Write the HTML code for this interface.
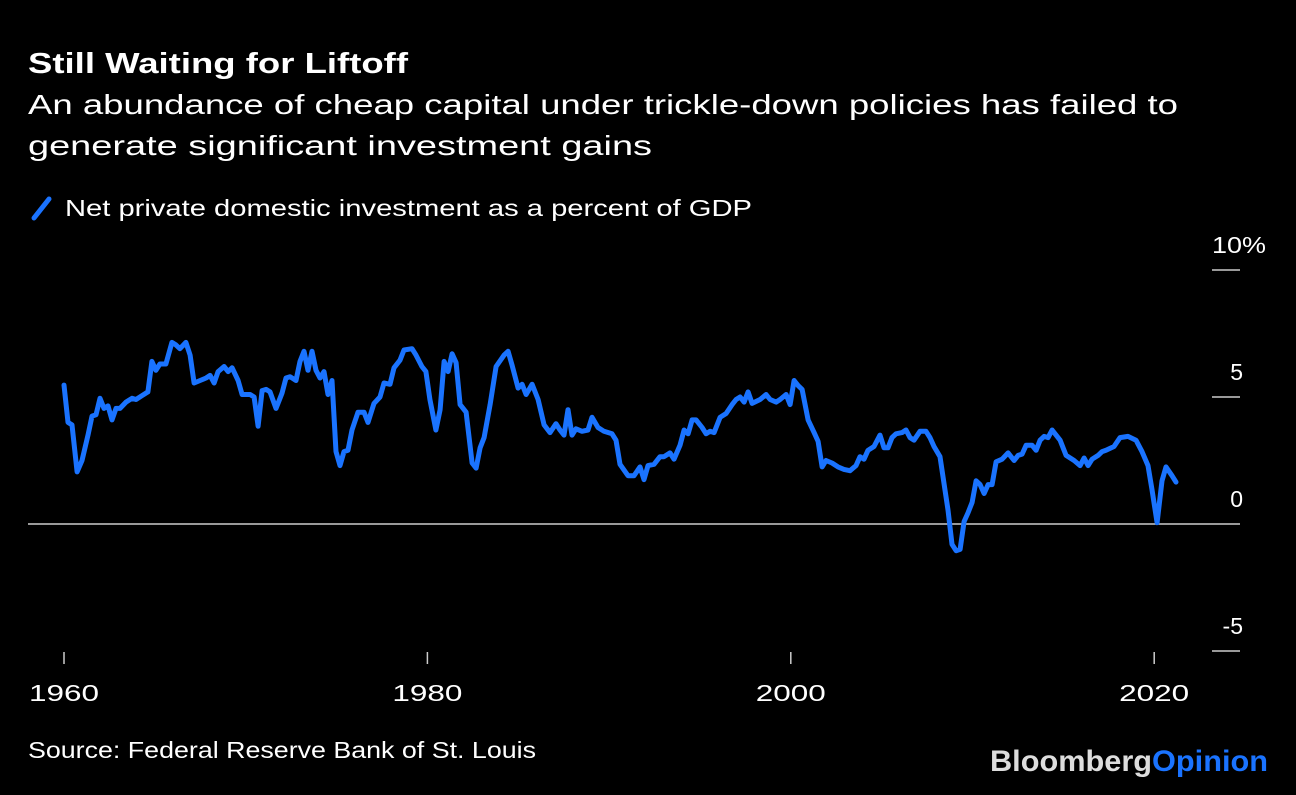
<!DOCTYPE html>
<html><head><meta charset="utf-8"><style>
body{margin:0;background:#000;width:1296px;height:790px;overflow:hidden;font-family:"Liberation Sans",Arial,sans-serif;color:#fff}
svg text{font-family:"Liberation Sans",Arial,sans-serif}
</style></head><body>
<svg id="chart" width="1296" height="790" xmlns="http://www.w3.org/2000/svg">
<text x="28" y="73" font-size="29" font-weight="bold" fill="#fff" textLength="380" lengthAdjust="spacingAndGlyphs">Still Waiting for Liftoff</text>
<text x="28" y="114" font-size="28" fill="#fff" textLength="1150" lengthAdjust="spacingAndGlyphs">An abundance of cheap capital under trickle-down policies has failed to</text>
<text x="28" y="155" font-size="28" fill="#fff" textLength="624" lengthAdjust="spacingAndGlyphs">generate significant investment gains</text>
<line x1="34" y1="218" x2="49" y2="199" stroke="#1a73ff" stroke-width="5" stroke-linecap="round"/>
<text x="65" y="216" font-size="23" fill="#fff" textLength="687" lengthAdjust="spacingAndGlyphs">Net private domestic investment as a percent of GDP</text>
<g id="axes"></g>
<path id="series" fill="none" stroke="#1a73ff" stroke-width="5" stroke-linejoin="round" stroke-linecap="round"/>
<text x="28" y="758" font-size="23" fill="#fff" textLength="508" lengthAdjust="spacingAndGlyphs">Source: Federal Reserve Bank of St. Louis</text>
<text x="990" y="771" font-size="30" font-weight="bold" textLength="278" lengthAdjust="spacingAndGlyphs"><tspan fill="#ddd">Bloomberg</tspan><tspan fill="#1a73ff">Opinion</tspan></text>
</svg>
<script>
const years=[1960.00,1960.22,1960.44,1960.72,1960.99,1961.32,1961.54,1961.76,1961.98,1962.20,1962.42,1962.64,1962.86,1963.08,1963.41,1963.74,1963.96,1964.29,1964.62,1964.84,1965.06,1965.28,1965.61,1965.94,1966.16,1966.38,1966.71,1966.94,1967.16,1967.49,1967.82,1968.04,1968.26,1968.48,1968.81,1969.03,1969.25,1969.58,1969.80,1970.24,1970.46,1970.68,1970.90,1971.12,1971.34,1971.67,1972.00,1972.22,1972.44,1972.77,1972.99,1973.21,1973.43,1973.65,1973.87,1974.09,1974.31,1974.53,1974.75,1974.97,1975.19,1975.41,1975.63,1975.85,1976.18,1976.51,1976.73,1977.06,1977.39,1977.61,1977.94,1978.16,1978.49,1978.71,1979.15,1979.37,1979.70,1979.92,1980.14,1980.47,1980.70,1980.92,1981.14,1981.36,1981.58,1981.80,1982.13,1982.46,1982.68,1982.90,1983.12,1983.45,1983.78,1984.22,1984.44,1984.66,1984.99,1985.21,1985.43,1985.76,1986.09,1986.42,1986.75,1987.08,1987.30,1987.52,1987.74,1987.96,1988.18,1988.51,1988.84,1989.06,1989.39,1989.72,1990.16,1990.38,1990.60,1991.04,1991.37,1991.70,1991.92,1992.14,1992.47,1992.80,1993.02,1993.35,1993.57,1993.90,1994.13,1994.35,1994.57,1994.79,1995.12,1995.34,1995.56,1995.78,1996.11,1996.44,1996.77,1996.99,1997.21,1997.43,1997.65,1997.87,1998.31,1998.64,1998.86,1999.19,1999.41,1999.74,1999.96,2000.18,2000.40,2000.62,2000.95,2001.28,2001.50,2001.72,2001.94,2002.27,2002.60,2002.93,2003.26,2003.59,2003.81,2004.03,2004.25,2004.58,2004.91,2005.13,2005.35,2005.57,2005.79,2006.12,2006.34,2006.56,2006.78,2007.11,2007.44,2007.66,2007.88,2008.21,2008.43,2008.65,2008.87,2009.10,2009.32,2009.54,2009.76,2009.98,2010.20,2010.42,2010.64,2010.86,2011.08,2011.30,2011.63,2011.96,2012.29,2012.51,2012.73,2012.95,2013.28,2013.50,2013.72,2013.94,2014.16,2014.38,2014.82,2015.15,2015.59,2015.92,2016.14,2016.36,2016.58,2016.91,2017.13,2017.35,2017.79,2018.12,2018.56,2019.00,2019.33,2019.66,2019.88,2020.16,2020.43,2020.65,2020.98,2021.20];
const values=[5.47,4.0,3.9,2.05,2.5,3.5,4.25,4.3,4.95,4.55,4.65,4.1,4.55,4.55,4.8,4.95,4.9,5.05,5.2,6.4,6.05,6.3,6.3,7.15,7.05,6.9,7.15,6.65,5.55,5.65,5.75,5.85,5.55,6.0,6.2,6.0,6.15,5.65,5.1,5.1,5.0,3.85,5.25,5.3,5.2,4.55,5.15,5.75,5.8,5.65,6.4,6.8,6.05,6.8,6.05,5.75,6.0,5.1,5.65,2.85,2.3,2.85,2.9,3.7,4.4,4.4,4.0,4.75,5.0,5.55,5.5,6.15,6.45,6.85,6.9,6.65,6.2,6.0,4.9,3.7,4.5,6.4,6.0,6.7,6.35,4.7,4.4,2.4,2.2,3.0,3.4,4.7,6.2,6.65,6.8,6.25,5.35,5.5,5.1,5.5,4.9,3.9,3.6,3.95,3.7,3.5,4.5,3.5,3.75,3.65,3.7,4.2,3.8,3.65,3.55,3.3,2.35,1.9,1.9,2.25,1.75,2.3,2.35,2.65,2.65,2.8,2.55,3.1,3.7,3.55,4.1,4.1,3.8,3.55,3.65,3.6,4.2,4.35,4.7,4.9,5.0,4.8,5.2,4.75,4.9,5.1,4.9,4.8,4.9,5.1,4.7,5.65,5.45,5.3,4.1,3.6,3.25,2.25,2.5,2.4,2.25,2.15,2.1,2.3,2.65,2.55,2.9,3.05,3.5,3.0,3.0,3.4,3.55,3.6,3.7,3.4,3.3,3.65,3.65,3.4,3.05,2.65,1.6,0.55,-0.8,-1.05,-1.0,0.1,0.45,0.85,1.7,1.55,1.2,1.55,1.55,2.45,2.55,2.8,2.5,2.7,2.75,3.1,3.1,2.9,3.3,3.45,3.4,3.7,3.3,2.7,2.5,2.3,2.6,2.3,2.55,2.7,2.85,2.9,3.05,3.4,3.45,3.3,2.85,2.3,1.35,0.05,1.7,2.25,1.9,1.65];
const yTicks=[10,5,0,-5];
const yTickLabels=["10%","5","0","-5"];
const xTicks=[1960,1980,2000,2020];
const xTickLabels=["1960","1980","2000","2020"];

const NS="http://www.w3.org/2000/svg";
const xS=y=>64+(y-1960)*18.17;
const yS=v=>524-v*25.4;
const axes=document.getElementById('axes');
function mk(tag,attrs){const e=document.createElementNS(NS,tag);for(const k in attrs)e.setAttribute(k,attrs[k]);axes.appendChild(e);return e;}
const zl=mk('line',{x1:28,x2:1212,y1:yS(0),y2:yS(0),stroke:'#ccc','stroke-width':1.5});


yTicks.forEach((t,i)=>{
  const l=mk('line',{x1:1212,x2:1240,y1:yS(t),y2:yS(t),stroke:'#ccc','stroke-width':1.5});
  
  
  const tx=mk('text',{x:1243,y:yS(t)-17,'font-size':23,fill:'#fff','text-anchor':'end'});
  tx.textContent=yTickLabels[i];
  if(yTickLabels[i].endsWith('%')){tx.setAttribute('text-anchor','start');tx.setAttribute('x',1212);tx.setAttribute('textLength',54);tx.setAttribute('lengthAdjust','spacingAndGlyphs');}
  
  
});
xTicks.forEach((t,i)=>{
  const l=mk('line',{x1:xS(t),x2:xS(t),y1:652,y2:664,stroke:'#ccc','stroke-width':1.5});
  
  
  const tx=mk('text',{x:xS(t)-35,y:701,'font-size':23,fill:'#fff',textLength:70,lengthAdjust:'spacingAndGlyphs'});
  tx.textContent=xTickLabels[i];
  
  
});
document.getElementById('series').setAttribute('d',years.map((y,i)=>(i?'L':'M')+xS(y).toFixed(1)+','+yS(values[i]).toFixed(1)).join(''));
</script>
</body></html>
